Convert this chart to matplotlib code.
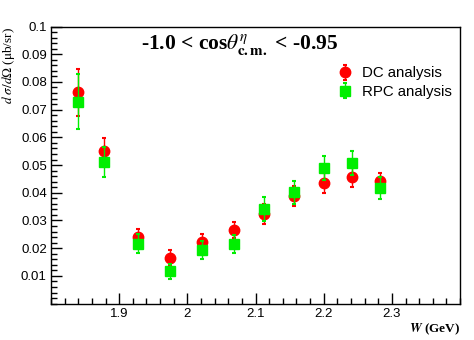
import matplotlib.pyplot as plt
from matplotlib.ticker import MultipleLocator

# beam energy bins (GeV)
W = [1.840, 1.878, 1.927, 1.975, 2.022, 2.068, 2.112, 2.156, 2.200, 2.242, 2.283]

# DC analysis
dc = [0.0762, 0.0552, 0.0242, 0.0166, 0.0223, 0.0266, 0.0323, 0.0389, 0.0437, 0.0458, 0.0444]
dc_err = [0.0084, 0.0047, 0.0028, 0.0028, 0.0030, 0.0030, 0.0035, 0.0036, 0.0036, 0.0036, 0.0029]

# RPC analysis
rpc = [0.0729, 0.0510, 0.0216, 0.0116, 0.0193, 0.0214, 0.0341, 0.0402, 0.0489, 0.0507, 0.0417]
rpc_err = [0.0098, 0.0054, 0.0034, 0.0027, 0.0033, 0.0032, 0.0042, 0.0042, 0.0044, 0.0042, 0.0040]

yticks = [0.01, 0.02, 0.03, 0.04, 0.05, 0.06, 0.07, 0.08, 0.09, 0.1]
ytick_labels = ['0.01', '0.02', '0.03', '0.04', '0.05', '0.06', '0.07', '0.08', '0.09', '0.1']

plt.rcParams['mathtext.fontset'] = 'stix'

fig = plt.figure(figsize=(4.74, 3.4), dpi=100)
ax = fig.add_axes([0.1076, 0.107, 0.863, 0.815])

ax.errorbar(W, dc, yerr=dc_err, fmt='o', color='#ff0000', ms=7.5, mec='#ff0000',
            elinewidth=1, capsize=1.2, capthick=1.5, label='DC analysis', zorder=2)
ax.errorbar(W, rpc, yerr=rpc_err, fmt='s', color='#00ee00', ms=7, mec='#00ee00',
            elinewidth=1, capsize=1.2, capthick=1.5, label='RPC analysis', zorder=3)

ax.set_xlim(1.8, 2.4)
ax.set_ylim(0, 0.1)
ax.set_xticks([1.9, 2.0, 2.1, 2.2, 2.3])
ax.set_xticklabels(['1.9', '2', '2.1', '2.2', '2.3'])
ax.set_yticks(yticks)
ax.set_yticklabels(ytick_labels)
ax.xaxis.set_minor_locator(MultipleLocator(0.02))
ax.yaxis.set_minor_locator(MultipleLocator(0.002))
ax.tick_params(which='both', direction='in', top=False, right=False,
               labelsize=9.5, pad=3, colors='black')
ax.tick_params(which='major', length=8, width=1)
ax.tick_params(which='minor', length=4, width=1)
for lab in ax.get_xticklabels() + ax.get_yticklabels():
    lab.set_family('Liberation Sans')
for s in ax.spines.values():
    s.set_linewidth(1)

ax.set_xlabel(r'$\mathbfit{W}$ (GeV)', family='Liberation Serif', fontweight='bold',
              fontsize=9.5, loc='right', labelpad=1)
ax.set_ylabel(r'$d\ \sigma/d\Omega$ ($\mathrm{\mu}$b/sr)', family='Liberation Serif',
              fontsize=9.5, loc='top', labelpad=3)

ax.text(0.462, 0.934, r'-1.0 < cos$\theta^{\eta}_{\mathbf{c.m.}}$ < -0.95',
        transform=ax.transAxes, ha='center', va='center',
        family='Liberation Serif', fontweight='bold', fontsize=15.5)

ax.legend(loc='upper right', bbox_to_anchor=(1.012, 0.905), frameon=False,
          handlelength=1.0, handletextpad=0.6, labelspacing=0.3,
          prop={'family': 'Liberation Sans', 'size': 10.8})

fig.savefig('out.png', dpi=100)
